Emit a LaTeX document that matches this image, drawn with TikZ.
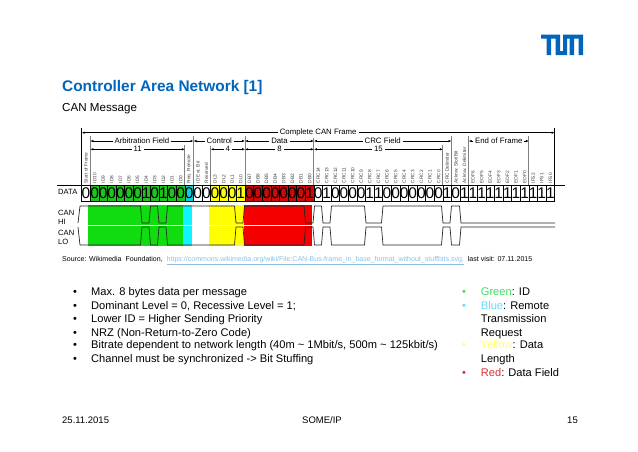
\documentclass[tikz,border=0pt]{standalone}
\usepackage{fontspec}
\setmainfont{Liberation Sans}
\usetikzlibrary{arrows.meta}
\definecolor{tumblue}{HTML}{0065BD}
\definecolor{cellgreen}{HTML}{1FC41F}
\definecolor{cellred}{HTML}{CC0A0A}
\definecolor{cellcyan}{HTML}{10CCDC}
\definecolor{cellyellow}{HTML}{FFFF10}
\definecolor{areagreen}{HTML}{10DD10}
\definecolor{areacyan}{HTML}{10F4FF}
\definecolor{areayellow}{HTML}{FFFF00}
\definecolor{areared}{HTML}{F40000}
\definecolor{txtgreen}{HTML}{40DD60}
\definecolor{txtcyan}{HTML}{60DDFF}
\definecolor{txtyellow}{HTML}{FFFF70}
\definecolor{txtred}{HTML}{DD3030}
\definecolor{linkblue}{HTML}{8FC0E0}
\definecolor{divgray}{HTML}{808080}
\newcommand{\fs}[1]{\fontsize{#1}{#1}\selectfont}
\newcommand{\cx}[1]{\fpeval{81.7+8.6*(#1)}}
\tikzset{
  x=1pt,y=-1pt,
  bitlab/.style={rotate=90,anchor=west,inner sep=0,font=\fs{4.8},text=black!75},
  bitdig/.style={inner sep=0,font=\fs{15.5}},
  divider/.style={divgray,line width=.9},
  span/.style={{Latex[length=3,width=2.4]}-{Latex[length=3,width=2.4]},line width=.55},
  spanlab/.style={fill=white,inner sep=2,font=\fs{7.8}},
  wave/.style={line width=.7,black!85,line join=round},
  bulleted/.style={anchor=base west,inner sep=0,font=\fs{11.1}},
  blt/.style={anchor=base,inner sep=0,font=\fs{11}},
  foot/.style={anchor=base,inner sep=0,font=\fs{9.5}}
}
\begin{document}
\begin{tikzpicture}
\useasboundingbox (0,0) rectangle (638,451);
\fill[white] (0,0) rectangle (638,451);
% logo
\fill[tumblue] (541,34.5) -- (560,34.5) -- (560,51) -- (563,51) -- (563,34.5) -- (583,34.5) -- (583,55) -- (578.5,55) -- (578.5,38.5) -- (574,38.5) -- (574,55) -- (569.5,55) -- (569.5,38.5) -- (567,38.5) -- (567,55) -- (555.5,55) -- (555.5,38.5) -- (551,38.5) -- (551,55) -- (546.5,55) -- (546.5,38.5) -- (541,38.5) -- cycle;
% headings
\node[anchor=base west,inner sep=0,font=\fs{15.4}\bfseries,text=tumblue] (title) at (62,91) {Controller Area Network [1]};
\node[anchor=base west,inner sep=0,font=\fs{11.6}] (sub) at (62,111) {CAN Message};
% waveform colour areas
\fill[areagreen] (88.3,205) rectangle (183,246);
\fill[areacyan] (183,205) rectangle (192,246);
\fill[areayellow] (209,205) rectangle (244,246);
\fill[areared] (244,205) rectangle (312,246);
\fill[cellred] (244,205) rectangle (312,206.5);
\fill[white] (75,224.5) rectangle (560,226.2);
% waveforms
\begin{scope}[wave]
\foreach \yr/\yd in {223/206,227/245}{
\draw (78,\yr) -- (80,\yd) -- (140.5,\yd) -- (142,\yr) -- (149,\yr) -- (150.5,\yd) -- (157.5,\yd) -- (159,\yr) -- (166,\yr) -- (167.5,\yd) -- (234.5,\yd) -- (236,\yr) -- (243,\yr) -- (244.5,\yd) -- (304,\yd) -- (305.5,\yr) -- (313,\yr) -- (314.5,\yd) -- (321.5,\yd) -- (323,\yr) -- (330,\yr) -- (331.5,\yd) -- (364.5,\yd) -- (366,\yr) -- (381.5,\yr) -- (383,\yd) -- (441.5,\yd) -- (443,\yr) -- (450,\yr) -- (451.5,\yd) -- (459.5,\yd) -- (461,\yr) -- (555,\yr);
}
\end{scope}
% data row
\foreach \i/\col in {1/cellgreen,2/cellgreen,3/cellgreen,4/cellgreen,5/cellgreen,6/cellgreen,7/cellgreen,8/cellgreen,9/cellgreen,10/cellgreen,11/cellgreen,12/cellcyan,15/cellyellow,16/cellyellow,17/cellyellow,18/cellyellow,19/cellred,20/cellred,21/cellred,22/cellred,23/cellred,24/cellred,25/cellred,26/cellred}{
  \fill[\col] ({\cx{\i}},185) rectangle ({\cx{\i+1}},201.7);
}
\foreach \i in {0,...,55}{ \draw[line width=.6] ({\cx{\i}},185) -- ({\cx{\i}},201.7); }
\draw[line width=.6] (57,185) -- (565,185);
\draw[line width=.6] (81.7,201.7) -- (554.7,201.7);
\foreach \b [count=\i from 0] in {0,0,0,0,0,0,0,1,0,1,0,0,0,0,0,0,0,0,1,0,0,0,0,0,0,0,1,0,1,0,0,0,0,1,1,0,0,0,0,0,0,0,1,0,1,1,1,1,1,1,1,1,1,1,1}{
  \node[bitdig] (bit\i) at ({\cx{\i+.5}},193.5) {\b};
}
% bit labels
\foreach \t [count=\i from 0] in {Start of Frame,ID10,ID9,ID8,ID7,ID6,ID5,ID4,ID3,ID2,ID1,ID0,Req. Remote,ID Ext. Bit,Reserved,DL3,DL2,DL1,DL0,DB7,DB6,DB5,DB4,DB3,DB2,DB1,DB0,CRC14,CRC13,CRC12,CRC11,CRC10,CRC9,CRC8,CRC7,CRC6,CRC5,CRC4,CRC3,CRC2,CRC1,CRC0,CRC Delimiter,Acknw. Slot/Bit,Acknw. Delimiter,EOF6,EOF5,EOF4,EOF3,EOF2,EOF1,EOF0,IFS2,IFS1,IFS0}{
  \node[bitlab] (lab\i) at ({\cx{\i+.5}},183.5) {\t};
}
% dividers
\draw[line width=.6] (81.7,128) -- (81.7,185);
\draw[line width=.6] (554.7,128) -- (554.7,185);
\foreach \i/\y in {1/136,12/145,13/136,15/145,19/136,27/136,42/145,43/136,45/136,52/136}{
  \draw[divider] ({\cx{\i}},\y) -- ({\cx{\i}},185);
}
% spans
\foreach \a/\b/\y/\t in {0/55/132.7/Complete CAN Frame,1/13/141/Arbitration Field,13/19/141/Control,19/27/141/Data,27/43/141/CRC Field,45/52/141/End of Frame,1/12/149.3/11,15/19/149.3/4,19/27/149.3/8,27/42/149.3/15}{
  \draw[span] ({\cx{\a}},\y) -- ({\cx{\b}},\y) node[midway,spanlab] {\t};
}
% row labels
\node[anchor=base west,inner sep=0,font=\fs{7.6}] (ldata) at (58,194.5) {DATA};
\node[anchor=base west,inner sep=0,font=\fs{7.6}] (lhi1) at (58,215) {CAN};
\node[anchor=base west,inner sep=0,font=\fs{7.6}] (lhi2) at (58,224.7) {HI};
\node[anchor=base west,inner sep=0,font=\fs{7.6}] (llo1) at (58,235) {CAN};
\node[anchor=base west,inner sep=0,font=\fs{7.6}] (llo2) at (58,244.7) {LO};
% source
\node[anchor=base west,inner sep=0,font=\fs{7.05}] (src) at (62,261) {Source: Wikimedia\ \ Foundation,\ \ \textcolor{linkblue}{\underline{https://commons.wikimedia.org/wiki/File:CAN-Bus-frame\_in\_base\_format\_without\_stuffbits.svg,}}\ \ last visit: 07.11.2015};
% left bullets
\foreach \y/\t in {295.7/Max. 8 bytes data per message,309/{Dominant Level = 0, Recessive Level = 1;},322.7/Lower ID = Higher Sending Priority,336.7/NRZ (Non-Return-to-Zero Code),348.3/{Bitrate dependent to network length (40m \textasciitilde{} 1Mbit/s, 500m \textasciitilde{} 125kbit/s)},362.3/Channel must be synchronized -> Bit Stuffing}{
  \node[blt] at (75,\y) {•};
  \node[bulleted] at (91,\y) {\t};
}
% right bullets
\node[blt,text=txtgreen] (bg) at (464,295.7) {•};
\node[bulleted] (tg) at (480.7,295.7) {\textcolor{txtgreen}{Green}: ID};
\node[blt,text=txtcyan] (bc) at (464,309) {•};
\node[bulleted] (tc) at (480.7,309) {\textcolor{txtcyan}{Blue}: Remote};
\node[bulleted] (tc2) at (480.7,322.7) {Transmission};
\node[bulleted] (tc3) at (480.7,336.7) {Request};
\node[blt,text=txtyellow] (by) at (464,348.3) {•};
\node[bulleted] (ty) at (480.7,348.3) {\textcolor{txtyellow}{Yellow}: Data};
\node[bulleted] (ty2) at (480.7,362.3) {Length};
\node[blt,text=txtred] (br) at (464,376.7) {•};
\node[bulleted] (tr) at (480.7,376.7) {\textcolor{txtred}{Red}: Data Field};
% footer
\node[foot,anchor=base west] (fd) at (62,423) {25.11.2015};
\node[foot] (ft) at (322,423) {SOME/IP};
\node[foot,anchor=base east] (fn) at (578,423) {15};
\end{tikzpicture}
\end{document}
